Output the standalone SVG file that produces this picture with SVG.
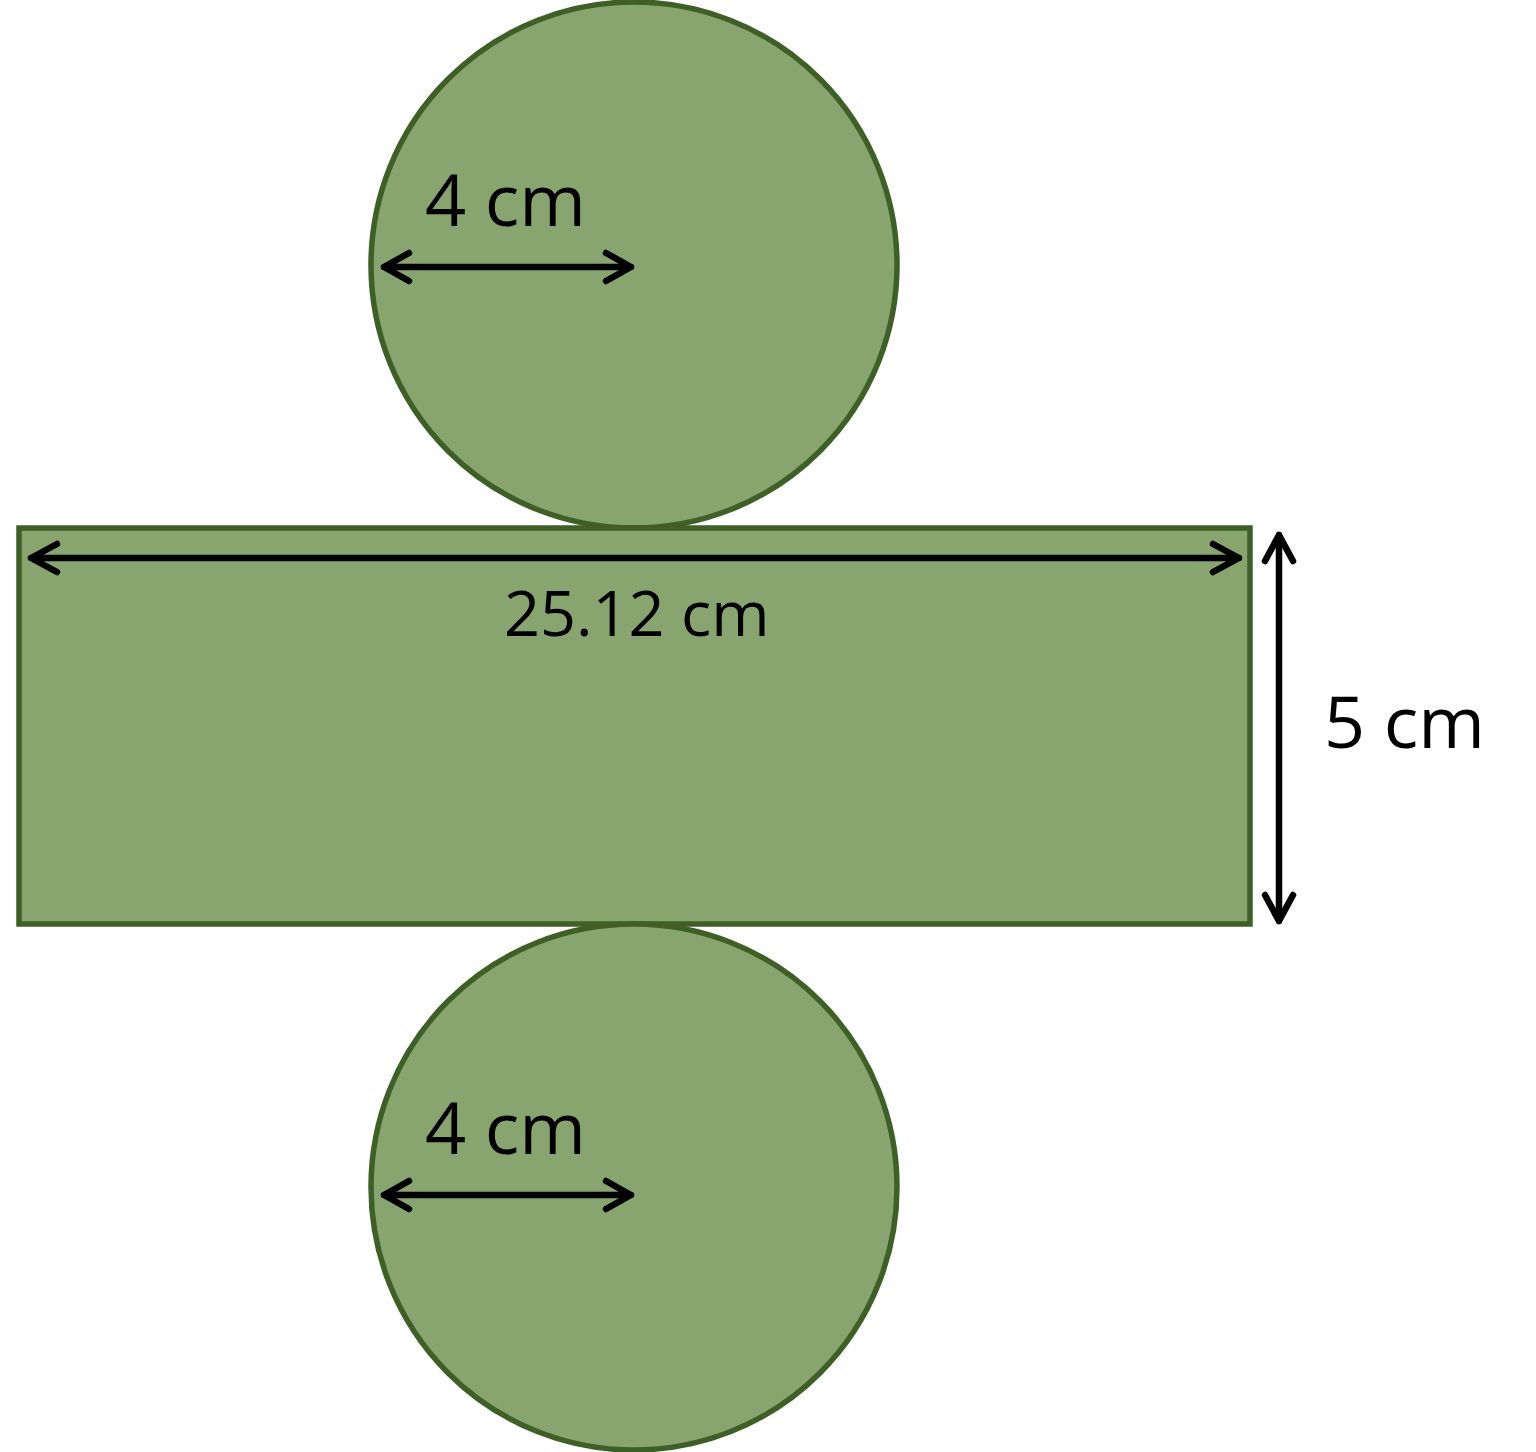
<svg xmlns="http://www.w3.org/2000/svg" width="1536" height="1452" viewBox="0 0 1536 1452">
<style>
.shape{fill:#88a570;stroke:#3e5f26;stroke-width:5.5}
.arr{fill:none;stroke:#000;stroke-width:6.5;stroke-linecap:round;stroke-linejoin:round}
.lbl{font-family:"Open Sans","Liberation Sans",sans-serif;font-size:72px;fill:#000}
</style>
<rect width="1536" height="1452" fill="#fff"/>
<g id="top-circle"><circle class="shape" cx="634" cy="265" r="263"/></g>
<g id="rectangle"><rect class="shape" x="19" y="528" width="1231" height="396"/></g>
<g id="bottom-circle"><circle class="shape" cx="634" cy="1187" r="263"/></g>
<g id="connectors">
<path class="arr" d="M384 267H631M409 253L384 267L409 281M606 253L631 267L606 281"/>
<path class="arr" d="M31 558H1239M57 544L31 558L57 572M1213 544L1239 558L1213 572"/>
<path class="arr" d="M1279 535V921M1265 561L1279 535L1293 561M1265 895L1279 921L1293 895"/>
<path class="arr" d="M384 1195H631M409 1181L384 1195L409 1209M606 1181L631 1195L606 1209"/>
</g>
<g id="labels">
<text class="lbl" x="425" y="226">4 cm</text>
<text class="lbl" x="504" y="636" style="font-size:63px">25.12 cm</text>
<text class="lbl" x="1324" y="748">5 cm</text>
<text class="lbl" x="425" y="1154">4 cm</text>
</g>
</svg>
